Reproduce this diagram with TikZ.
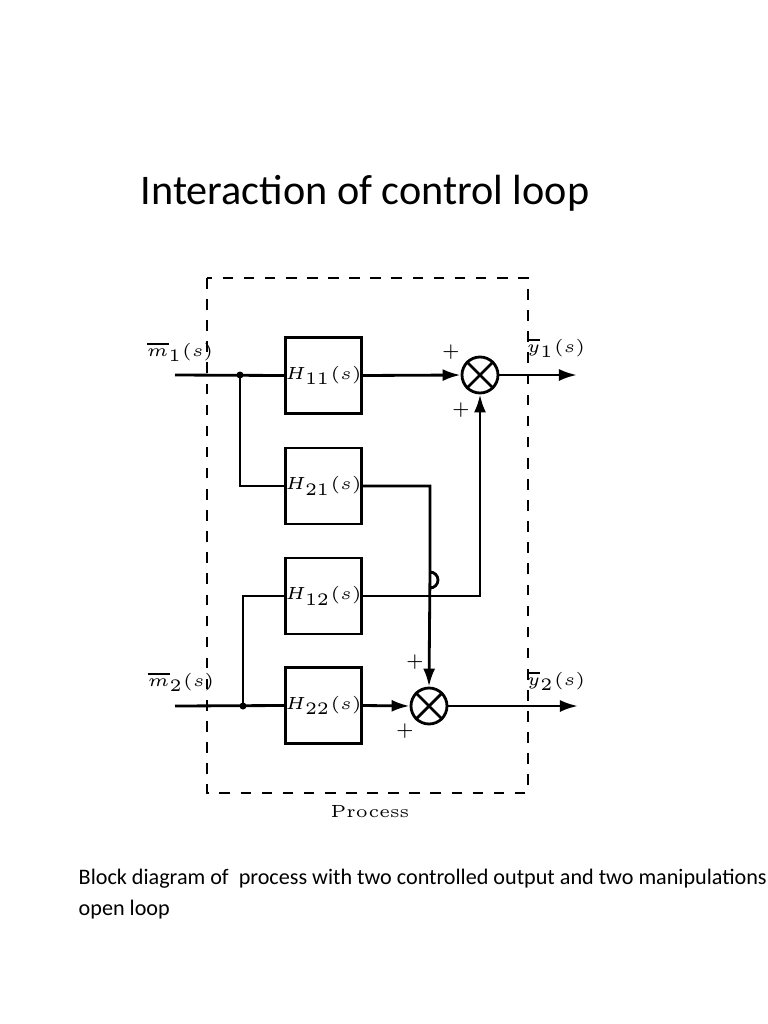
\documentclass[tikz,border=0pt]{standalone}
\usepackage{fontspec}
\newfontfamily\carlitofont{Carlito}
\usetikzlibrary{arrows.meta}
\begin{document}
\begin{tikzpicture}[x=0.01cm,y=-0.01cm,
  blk/.style={draw,thick,minimum width=75*0.01cm,minimum height=76*0.01cm,font=\fontsize{5}{6}\selectfont,inner sep=0pt},
  sumj/.style={draw,thick,circle,minimum size=36*0.01cm,inner sep=0pt},
  sig/.style={thick,-{Latex[length=1.8mm,width=1.2mm]}},
  ln/.style={thick},
  lbl/.style={font=\fontsize{5}{6}\selectfont,inner sep=0pt}]
\useasboundingbox (0,0) rectangle (768,1024);
\node[font=\carlitofont\fontsize{12}{14}\selectfont] (title) at (365,193) {Interaction of control loop};
\draw[dashed,thick] (207,278) rectangle (528,793);
\node[blk] (h11) at (323.5,375.5) {$H_{11}(s)$};
\node[blk] (h21) at (323.5,486) {$H_{21}(s)$};
\node[blk] (h12) at (323.5,596) {$H_{12}(s)$};
\node[blk] (h22) at (323.5,705.5) {$H_{22}(s)$};
\node[sumj] (s1) at (480,375) {};
\node[sumj] (s2) at (429,706) {};
\draw[thick] (s1.45)--(s1.225) (s1.135)--(s1.315);
\draw[thick] (s2.45)--(s2.225) (s2.135)--(s2.315);
\coordinate (m1in) at (175,375);
\coordinate (m2in) at (175,706);
\coordinate (d1) at (240,375);
\coordinate (d2) at (243,706);
\coordinate (y1out) at (577,375);
\coordinate (y2out) at (578,706);
\fill (d1) circle (3.5);
\fill (d2) circle (3.5);
\draw[ln] (m1in)--(h11.west);
\draw[ln] (d1)|-(h21.west);
\draw[ln] (m2in)--(h22.west);
\draw[ln] (d2)|-(h12.west);
\draw[sig] (h11.east)--(s1.west);
\draw[sig] (h22.east)--(s2.west);
\draw[sig] (h12.east)-|(s1.south);
\draw[sig] (h21.east)-|(430,588) arc[start angle=90,end angle=-90,radius=8]--(s2.north);
\draw[sig] (s1.east)--(y1out);
\draw[sig] (s2.east)--(y2out);
\node[lbl] (pa) at (451,352) {$+$};
\node[lbl] (pb) at (461,410) {$+$};
\node[lbl] (pc) at (415,662) {$+$};
\node[lbl] (pd) at (405,731) {$+$};
\node[lbl] (m1) at (180,352) {$\overline{m}_1(s)$};
\node[lbl] (m2) at (181,682) {$\overline{m}_2(s)$};
\node[lbl] (y1) at (556,348) {$\overline{y}_1(s)$};
\node[lbl] (y2) at (556,681) {$\overline{y}_2(s)$};
\node[font=\fontsize{5}{6}\selectfont] (proc) at (370,812) {Process};
\node[font=\carlitofont\fontsize{6.3}{9}\selectfont,anchor=north west,align=left,inner sep=0pt] (cap) at (78,868)
{Block diagram of\ \ process with two controlled output and two manipulations with\\ open loop};
\end{tikzpicture}
\end{document}
